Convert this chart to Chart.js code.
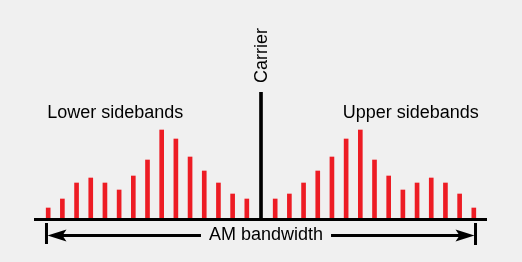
<!DOCTYPE html>
<html>
<head>
<meta charset="utf-8">
<script src="https://cdn.jsdelivr.net/npm/chart.js@4/dist/chart.umd.min.js"></script>
<style>
  html, body { margin: 0; padding: 0; background: #f0f0f0; }
  canvas { display: block; }
</style>
</head>
<body>
<canvas id="c" width="522" height="262"></canvas>
<script>
// Sideband offsets (harmonic index from carrier) and amplitudes
const lowerOffsets = [-15, -14, -13, -12, -11, -10, -9, -8, -7, -6, -5, -4, -3, -2, -1];
const lowerLevels  = [10, 19, 35, 40, 35, 28, 42, 58, 88, 79, 61, 47, 35, 24, 19];
const upperOffsets = [1, 2, 3, 4, 5, 6, 7, 8, 9, 10, 11, 12, 13, 14, 15];
const upperLevels  = [19, 24, 35, 47, 61, 79, 88, 58, 42, 28, 35, 40, 35, 24, 10];
const carrierOffset = [0];
const carrierLevel  = [126];
const labels = {
  lower: 'Lower sidebands',
  upper: 'Upper sidebands',
  carrier: 'Carrier',
  bandwidth: 'AM bandwidth'
};

const RED = '#ed1c24';
const FONT = '18px "Liberation Sans", Arial, sans-serif';

const toPoints = (xs, ys) => xs.map((x, i) => ({ x: x, y: ys[i] }));

const bgPlugin = {
  id: 'bg',
  beforeDraw(chart) {
    const ctx = chart.ctx;
    ctx.save();
    ctx.fillStyle = '#f0f0f0';
    ctx.fillRect(0, 0, chart.width, chart.height);
    ctx.restore();
  }
};

const decorPlugin = {
  id: 'decor',
  afterDatasetsDraw(chart) {
    const ctx = chart.ctx;
    const xs = chart.scales.x, ys = chart.scales.y;
    const y0 = ys.getPixelForValue(0);
    ctx.save();
    // baseline
    ctx.strokeStyle = '#000';
    ctx.lineWidth = 3;
    ctx.beginPath();
    ctx.moveTo(xs.getPixelForValue(xs.min), y0 + 1.5);
    ctx.lineTo(xs.getPixelForValue(xs.max) - 1, y0 + 1.5);
    ctx.stroke();

    ctx.fillStyle = '#000';
    ctx.font = FONT;
    // sideband labels
    ctx.textBaseline = 'alphabetic';
    ctx.textAlign = 'left';
    ctx.fillText(labels.lower, xs.getPixelForValue(lowerOffsets[0]) - 1, ys.getPixelForValue(100));
    ctx.textAlign = 'right';
    ctx.fillText(labels.upper, xs.getPixelForValue(upperOffsets[upperOffsets.length - 1]) + 5, ys.getPixelForValue(100));

    // carrier label (rotated)
    ctx.save();
    ctx.translate(xs.getPixelForValue(carrierOffset[0]) + 5.5, ys.getPixelForValue(carrierLevel[0]) - 36.5);
    ctx.rotate(-Math.PI / 2);
    ctx.textAlign = 'center';
    ctx.textBaseline = 'alphabetic';
    ctx.fillText(labels.carrier, 0, 0);
    ctx.restore();

    // bandwidth arrow
    const xl = xs.getPixelForValue(lowerOffsets[0]) - 1.7;
    const xr = xs.getPixelForValue(upperOffsets[upperOffsets.length - 1]) + 1.7;
    const ya = y0 + 17.5;
    ctx.lineWidth = 3;
    ctx.beginPath();
    ctx.moveTo(xl, y0 + 5); ctx.lineTo(xl, y0 + 26);
    ctx.moveTo(xr, y0 + 5); ctx.lineTo(xr, y0 + 27);
    ctx.stroke();

    ctx.textAlign = 'center';
    ctx.textBaseline = 'alphabetic';
    const tx = (xl + xr) / 2 + 5;
    ctx.fillText(labels.bandwidth, tx, ya + 4.5);
    const tw = ctx.measureText(labels.bandwidth).width;

    ctx.beginPath();
    ctx.moveTo(xl + 10, ya); ctx.lineTo(tx - tw / 2 - 8, ya);
    ctx.moveTo(tx + tw / 2 + 8, ya); ctx.lineTo(xr - 10, ya);
    ctx.stroke();

    // arrowheads
    ctx.beginPath();
    ctx.moveTo(xl + 1, ya);
    ctx.lineTo(xl + 20, ya - 6);
    ctx.lineTo(xl + 16, ya);
    ctx.lineTo(xl + 20, ya + 6);
    ctx.closePath();
    ctx.fill();
    ctx.beginPath();
    ctx.moveTo(xr - 1, ya);
    ctx.lineTo(xr - 20, ya - 6);
    ctx.lineTo(xr - 16, ya);
    ctx.lineTo(xr - 20, ya + 6);
    ctx.closePath();
    ctx.fill();
    ctx.restore();
  }
};

new Chart(document.getElementById('c'), {
  type: 'bar',
  data: {
    datasets: [
      { label: 'Lower', data: toPoints(lowerOffsets, lowerLevels), backgroundColor: RED, barThickness: 4 },
      { label: 'Upper', data: toPoints(upperOffsets, upperLevels), backgroundColor: RED, barThickness: 4 },
      { label: 'Carrier', data: toPoints(carrierOffset, carrierLevel), backgroundColor: '#000', barThickness: 3 }
    ]
  },
  options: {
    responsive: false,
    animation: false,
    devicePixelRatio: 1,
    layout: { padding: { top: 92, bottom: 44, left: 34, right: 34 } },
    datasets: { bar: { grouped: false, borderWidth: 0 } },
    plugins: { legend: { display: false }, tooltip: { enabled: false } },
    scales: {
      x: { type: 'linear', min: -16, max: 16, offset: false, display: false },
      y: { min: 0, max: 126, display: false }
    }
  },
  plugins: [bgPlugin, decorPlugin]
});
</script>
</body>
</html>
